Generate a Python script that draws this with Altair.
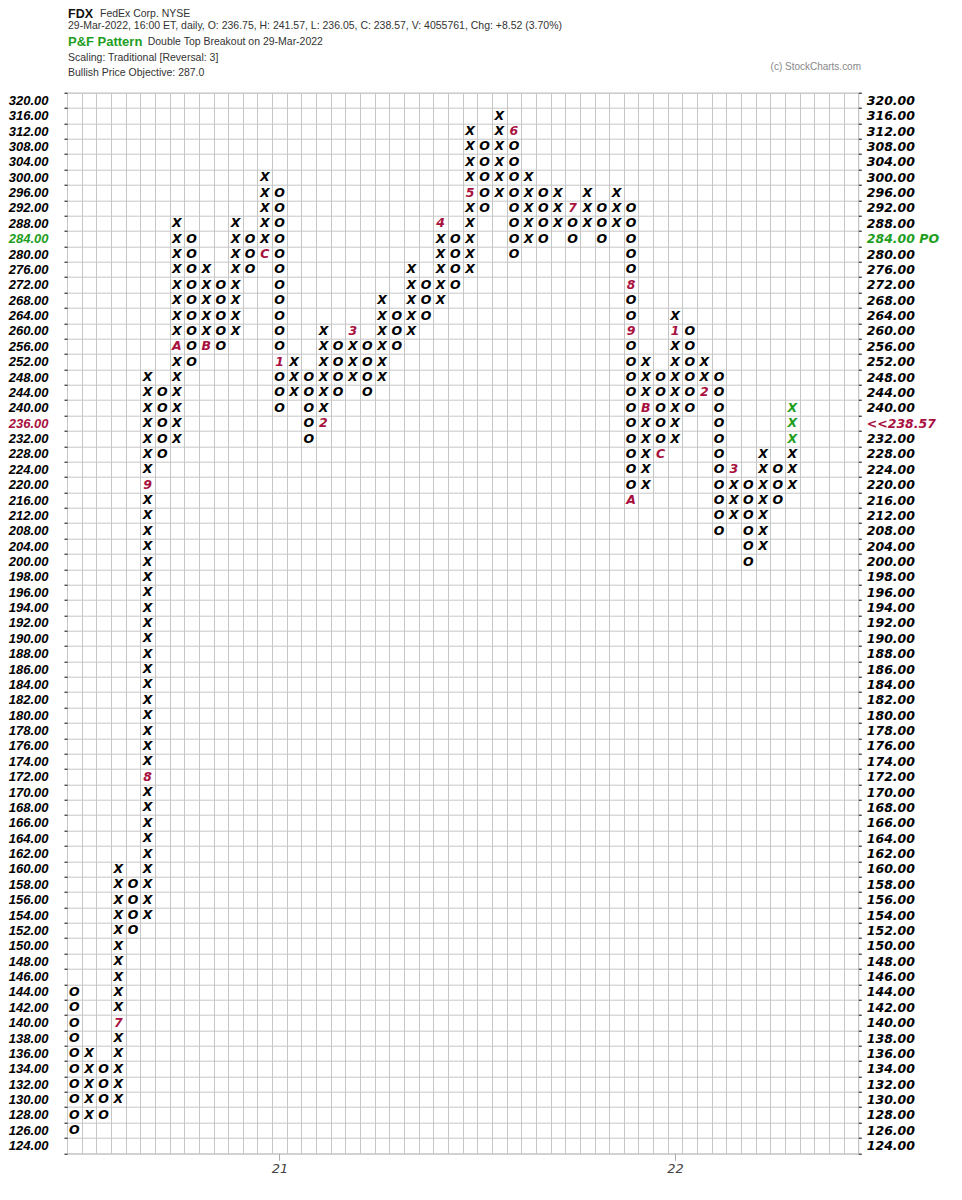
import altair as alt
import pandas as pd

# ---- data -------------------------------------------------------------
PRICES = [320, 316, 312, 308, 304, 300, 296, 292, 288, 284, 280, 276, 272, 268,
          264, 260, 256, 252, 248, 244, 240, 236, 232, 228, 224, 220, 216, 212,
          208, 204, 200, 198, 196, 194, 192, 190, 188, 186, 184, 182, 180, 178,
          176, 174, 172, 170, 168, 166, 164, 162, 160, 158, 156, 154, 152, 150,
          148, 146, 144, 142, 140, 138, 136, 134, 132, 130, 128, 126, 124]
LEFT_LABELS = ["%.2f" % p for p in PRICES]
RIGHT_LABELS = ["284.00 PO" if p == 284 else ("<<238.57" if p == 236 else "%.2f" % p)
                for p in PRICES]

COL_TYPE = ["O", "X"] * 25
COL_LOW = [126, 128, 128, 130, 152, 154, 228, 232, 252, 256, 256, 260, 276, 280, 240,
           244, 232, 236, 244, 248, 244, 248, 256, 260, 264, 268, 272, 276, 292, 296,
           280, 284, 284, 288, 284, 288, 284, 288, 216, 220, 228, 232, 240, 244, 208,
           212, 200, 204, 216, 220]
COL_HIGH = [144, 136, 134, 160, 158, 248, 244, 288, 284, 276, 272, 288, 284, 300, 296,
            252, 248, 260, 256, 260, 256, 268, 264, 276, 272, 288, 284, 312, 308, 316,
            312, 300, 296, 296, 292, 296, 292, 296, 292, 252, 248, 264, 260, 252, 248,
            224, 220, 228, 224, 240]

MARK_COL = [3, 5, 5, 7, 9, 13, 14, 17, 19, 25, 27, 30, 34, 38, 38, 38, 39, 40, 41, 43, 45]
MARK_PRICE = [140, 172, 220, 256, 256, 280, 252, 236, 260, 288, 296, 312, 292, 272, 260,
              216, 240, 228, 260, 244, 224]
MARK_CHAR = ["7", "8", "9", "A", "B", "C", "1", "2", "3", "4", "5", "6", "7", "8", "9",
             "A", "B", "C", "1", "2", "3"]

GREEN_COL = [49, 49, 49]
GREEN_PRICE = [232, 236, 240]

YEAR_COLS = [14, 41]
YEAR_LABELS = ["21", "22"]

N_COLS = 54
N_ROWS = len(PRICES)

# ---- build cell table ------------------------------------------------
row_of = {p: i for i, p in enumerate(PRICES)}
markers = {(c, p): ch for c, p, ch in zip(MARK_COL, MARK_PRICE, MARK_CHAR)}
greens = set(zip(GREEN_COL, GREEN_PRICE))
cells = []
for c, (t, lo, hi) in enumerate(zip(COL_TYPE, COL_LOW, COL_HIGH)):
    for r in range(row_of[hi], row_of[lo] + 1):
        p = PRICES[r]
        if (c, p) in markers:
            cells.append(dict(xc=c + 0.5, yc=r + 0.5, ch=markers[(c, p)], kind="marker"))
        elif (c, p) in greens:
            cells.append(dict(xc=c + 0.5, yc=r + 0.5, ch=t, kind="green"))
        else:
            cells.append(dict(xc=c + 0.5, yc=r + 0.5, ch=t, kind="black"))
df = pd.DataFrame(cells)

GREEN = "#1e9e1e"
RED = "#a8103e"
GRID = "#c6c6c6"
FONT = "DejaVu Sans"

xscale = alt.Scale(domain=[0, N_COLS], nice=False, zero=False)
yscale = alt.Scale(domain=[0, N_ROWS], nice=False, zero=False, reverse=True)
row_h = 1060.6 / N_ROWS


def arr(lst):
    return "[" + ",".join("'%s'" % s for s in lst) + "]"


label_color = {"condition": [{"test": "datum.value == %d" % row_of[284], "value": GREEN},
                             {"test": "datum.value == %d" % row_of[236], "value": RED}],
               "value": "black"}

left_axis = alt.Axis(orient="left", values=list(range(N_ROWS + 1)), grid=True,
                     gridColor=GRID, gridWidth=1, domain=False, title=None,
                     labelExpr="datum.value < %d ? %s[datum.value] : ''" % (N_ROWS, arr(LEFT_LABELS)),
                     labelOffset=row_h / 2, labelOverlap=False, labelFont="Liberation Sans",
                     labelFontSize=13, labelFontStyle="italic", labelFontWeight="bold",
                     labelColor=label_color, labelPadding=16, tickSize=3,
                     tickColor="black", labelBound=False)
right_axis = alt.Axis(orient="right", values=list(range(N_ROWS + 1)), grid=False,
                      domain=False, title=None,
                      labelExpr="datum.value < %d ? %s[datum.value] : ''" % (N_ROWS, arr(RIGHT_LABELS)),
                      labelOffset=row_h / 2, labelOverlap=False, labelFont=FONT,
                      labelFontSize=12.5, labelFontStyle="italic", labelFontWeight="bold",
                      labelColor=label_color, labelPadding=5, tickSize=3,
                      tickColor="black", labelBound=False)
top_axis = alt.Axis(orient="top", values=list(range(N_COLS + 1)), grid=True,
                    gridColor=GRID, gridWidth=1, labels=False, ticks=False,
                    domain=False, title=None)
year_expr = " : ".join("datum.value == %s ? '%s'" % (c + 0.5, l)
                       for c, l in zip(YEAR_COLS, YEAR_LABELS)) + " : ''"
bottom_axis = alt.Axis(orient="bottom", values=[c + 0.5 for c in YEAR_COLS], grid=False,
                       domain=False, title=None, labelExpr=year_expr, labelFont=FONT,
                       labelFontSize=13, labelFontStyle="italic", labelColor="#444",
                       tickColor="#aaaaaa", tickSize=7, labelPadding=2,
                       labelFlush=False, labelOverlap=False)

base_text = dict(font=FONT, fontSize=12.5, fontStyle="italic", fontWeight="bold",
                 align="center", baseline="middle")

black = alt.Chart(df[df.kind == "black"]).mark_text(color="black", **base_text).encode(
    x=alt.X("xc:Q", scale=xscale, axis=top_axis),
    y=alt.Y("yc:Q", scale=yscale, axis=left_axis),
    text="ch:N",
)
colored = alt.Chart(df[df.kind != "black"]).mark_text(**base_text).encode(
    x=alt.X("xc:Q", scale=xscale, axis=bottom_axis),
    y=alt.Y("yc:Q", scale=yscale, axis=right_axis),
    text="ch:N",
    color=alt.Color("kind:N", scale=alt.Scale(domain=["marker", "green"], range=[RED, GREEN]),
                    legend=None),
)


def header(text, x, y, size=10.5, color="#333333", weight="normal", align="left",
           baseline="middle", font="Liberation Sans"):
    return alt.Chart(alt.Data(values=[{}])).mark_text(
        font=font, fontSize=size, color=color, fontWeight=weight, align=align,
        baseline=baseline).encode(x=alt.value(x), y=alt.value(y), text=alt.value(text))


headers = [
    header("FDX", 1, -84.4, size=12.5, color="#111111", weight="bold", baseline="top"),
    header("FedEx Corp.  NYSE", 33, -84.0, baseline="top"),
    header("29-Mar-2022, 16:00 ET, daily, O: 236.75, H: 241.57, L: 236.05, C: 238.57, "
           "V: 4055761, Chg: +8.52 (3.70%)", 1, -66.7),
    header("P&F Pattern", 1, -50.7, size=13, color=GREEN, weight="bold"),
    header("Double Top Breakout on 29-Mar-2022", 80.7, -50.7),
    header("Scaling: Traditional [Reversal: 3]", 1, -34.7),
    header("Bullish Price Objective: 287.0", 1, -19.7),
    header("(c) StockCharts.com", 794, -25.4, size=10, color="#888888", align="right"),
]

chart = alt.layer(black, colored, *headers).resolve_axis(
    x="independent", y="independent"
).properties(
    width=791.3, height=1060.6,
    padding={"left": 59, "top": 84.7, "right": 95.7, "bottom": 30},
    autosize=alt.AutoSizeParams(type="none"),
).configure_view(stroke=GRID, strokeWidth=1)

chart.save("out.html", embed_options={"renderer": "svg", "actions": False})
